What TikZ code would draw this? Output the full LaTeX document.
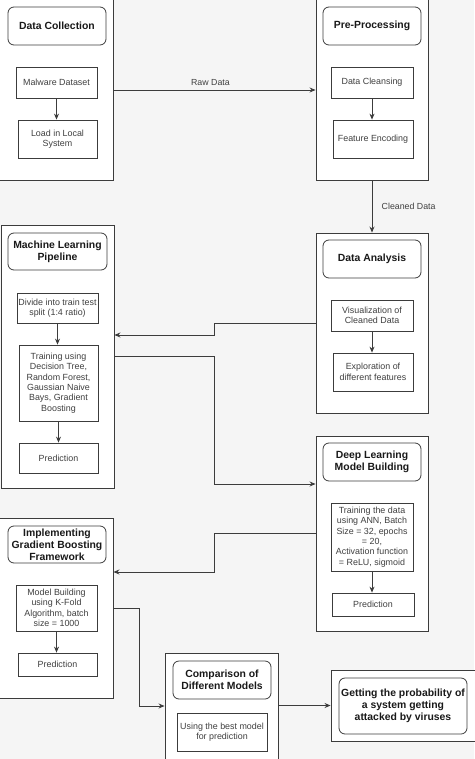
\documentclass[tikz,border=0pt]{standalone}
\usepackage{fontspec}
\setmainfont{Liberation Sans}
\usepackage{xcolor}
\usetikzlibrary{arrows.meta,positioning}
\definecolor{linec}{HTML}{3C3C3C}
\definecolor{bgc}{HTML}{F5F5F5}
\definecolor{txtc}{HTML}{404040}
\tikzset{
  container/.style={draw=linec,fill=white,line width=0.9pt,inner sep=0pt},
  titlebox/.style={draw=linec,fill=white,line width=0.8pt,rounded corners=6pt,inner sep=0pt,align=center,
    text=black!90,font={\bfseries\fontsize{10.4pt}{11.8pt}\selectfont}},
  stepbox/.style={draw=linec,fill=white,line width=0.8pt,inner sep=0pt,align=center,
    text=txtc,font={\fontsize{8.9pt}{10.4pt}\selectfont}},
  conn/.style={draw=linec,line width=0.8pt,-{Stealth[length=6pt,width=5pt]}},
  lbl/.style={text=txtc,font={\fontsize{8.8pt}{10.4pt}\selectfont}}
}

\begin{document}
\begin{tikzpicture}[x=1pt,y=-1pt]

%background
\fill[bgc] (0,0) rectangle (474,759);
\useasboundingbox (0,0) rectangle (474,759);

%containers
\node[container,minimum width=116pt,minimum height=183pt] at (55,88.5)    (dc)  {};
\node[container,minimum width=112pt,minimum height=183pt] at (372,88.5)   (pre) {};
\node[container,minimum width=112pt,minimum height=180pt] at (372,323)    (da)  {};
\node[container,minimum width=113pt,minimum height=263pt] at (57.5,356.5) (ml)  {};
\node[container,minimum width=112pt,minimum height=195pt] at (372,533.5)  (dl)  {};
\node[container,minimum width=116pt,minimum height=180pt] at (55,608)     (gb)  {};
\node[container,minimum width=113pt,minimum height=112pt] at (221.5,709)  (cmp) {};
\node[container,minimum width=149pt,minimum height=71pt]  at (405.5,705.5) (res) {};

%titles
\node[titlebox,minimum width=98pt,minimum height=38pt]  at (57,26)     (tdc)  {Data Collection};
\node[titlebox,minimum width=98pt,minimum height=38pt]  at (372,26)    (tpre) {Pre-Processing};
\node[titlebox,minimum width=98pt,minimum height=38pt]  at (372,259)   (tda)  {Data Analysis};
\node[titlebox,minimum width=99pt,minimum height=37pt]  at (57.5,251.5) (tml) {Machine Learning\\Pipeline};
\node[titlebox,minimum width=98pt,minimum height=38pt]  at (372,462)   (tdl)  {Deep Learning\\Model Building};
\node[titlebox,minimum width=98pt,minimum height=37pt]  at (57,544.5)  (tgb)  {Implementing\\Gradient Boosting\\Framework};
\node[titlebox,minimum width=98pt,minimum height=38pt]  at (222,680)   (tcmp) {Comparison of\\Different Models};
\node[titlebox,minimum width=128pt,minimum height=56pt] at (403,706)   (tres) {Getting the probability of\\a system getting\\attacked by viruses};

%steps
\node[stepbox,minimum width=81pt,minimum height=31pt] at (56.5,82.5)  (malware)  {Malware Dataset};
\node[stepbox,minimum width=79pt,minimum height=38pt] at (57.5,139)   (load)     {Load in Local\\System};
\node[stepbox,minimum width=82pt,minimum height=31pt] at (372,82.5)   (cleanse)  {Data Cleansing};
\node[stepbox,minimum width=80pt,minimum height=38pt] at (373,139)    (encode)   {Feature Encoding};
\node[stepbox,minimum width=82pt,minimum height=31pt] at (372,315.5)  (visual)   {Visualization of\\Cleaned Data};
\node[stepbox,minimum width=80pt,minimum height=38pt] at (373,372)    (explore)  {Exploration of\\different features};
\node[stepbox,minimum width=81pt,minimum height=30pt] at (57.5,308)   (split)    {Divide into train test\\split (1:4 ratio)};
\node[stepbox,minimum width=79pt,minimum height=76pt] at (58.5,383)   (mltrain)  {Training using\\Decision Tree,\\Random Forest,\\Gaussian Naive\\Bays, Gradient\\Boosting};
\node[stepbox,minimum width=79pt,minimum height=30pt] at (58.5,458)   (mlpred)   {Prediction};
\node[stepbox,minimum width=82pt,minimum height=68pt] at (372,537)    (anntrain) {Training the data\\using ANN, Batch\\Size = 32, epochs\\= 20,\\Activation function\\= ReLU, sigmoid};
\node[stepbox,minimum width=82pt,minimum height=23pt] at (373,604.5)  (dlpred)   {Prediction};
\node[stepbox,minimum width=81pt,minimum height=46pt] at (56.5,608)   (kfold)    {Model Building\\using K-Fold\\Algorithm, batch\\size = 1000};
\node[stepbox,minimum width=79pt,minimum height=23pt] at (57.5,664.5) (gbpred)   {Prediction};
\node[stepbox,minimum width=90pt,minimum height=38pt] at (222,732)    (best)     {Using the best model\\for prediction};

%arrows inside containers
\draw[conn] (malware.south) -- (malware.south |- load.north);
\draw[conn] (cleanse.south) -- (cleanse.south |- encode.north);
\draw[conn] (visual.south) -- (visual.south |- explore.north);
\draw[conn] (split.south) -- (split.south |- mltrain.north);
\draw[conn] (mltrain.south) -- (mltrain.south |- mlpred.north);
\draw[conn] (anntrain.south) -- (anntrain.south |- dlpred.north);
\draw[conn] (kfold.south) -- (kfold.south |- gbpred.north);

%bends
\coordinate (k1) at (214,335);
\coordinate (k2) at (214,484);
\coordinate (k3) at (214,572);
\coordinate (k4) at (139,706);

%arrows between containers
\draw[conn] (dc.east |- 0,90) -- (pre.west |- 0,90) node[lbl,above=1pt,pos=0.48] {Raw Data};
\draw[conn] (pre.south) -- (da.north) node[lbl,right=6pt,midway] {Cleaned Data};
\draw[conn] (da.west) -| (k1) -- (ml.east |- k1);
\draw[conn] (ml.east) -| (k2) -- (dl.west |- k2);
\draw[conn] (dl.west) -| (k3) -- (gb.east |- k3);
\draw[conn] (gb.east) -| (k4) -- (cmp.west |- k4);
\draw[conn] (cmp.east |- res.west) -- (res.west);

\end{tikzpicture}
\end{document}
